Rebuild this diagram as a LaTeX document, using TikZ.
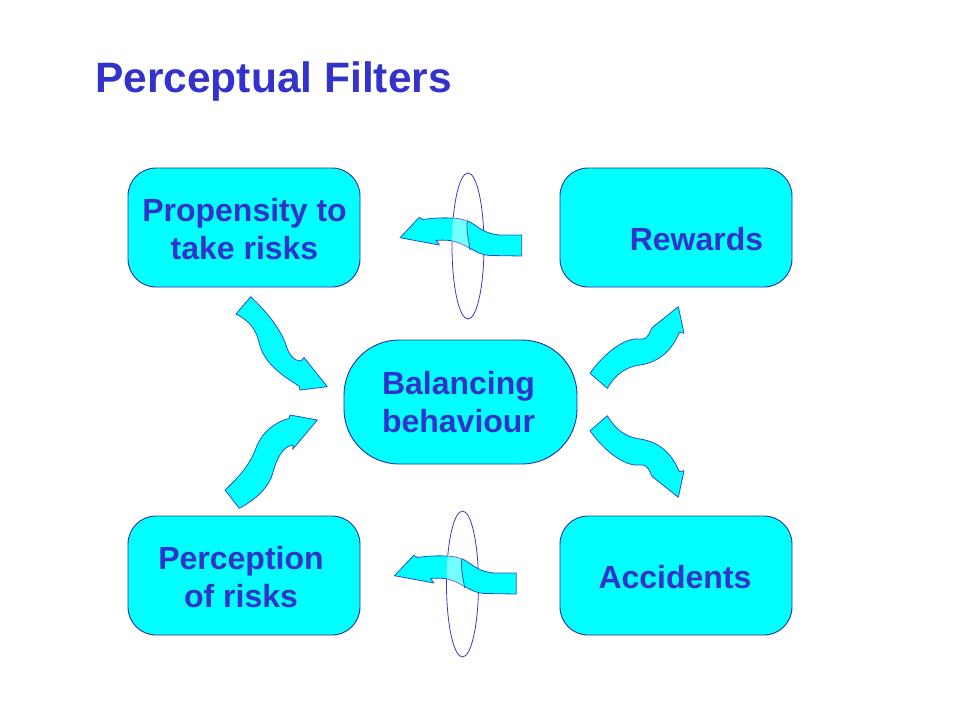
\documentclass[tikz,border=0pt]{standalone}
\usepackage{fontspec}
\setmainfont{Liberation Sans}
\definecolor{txtblue}{RGB}{51,51,204}
\definecolor{cyanfill}{RGB}{0,255,255}
\definecolor{edgeblue}{RGB}{45,45,160}
\definecolor{arrowedge}{RGB}{40,80,200}
\definecolor{ringblue}{RGB}{60,60,180}
\newcommand\filtarrowpath{(521.7,235) -- (521.7,256) -- (490,255.5) .. controls (475,255) and (467,243) .. (450,240.5) .. controls (445,240) and (440,240) .. (436,240.5) -- (439.3,245) -- (400,237.7) -- (419.3,217.3) -- (423,219.5) .. controls (440,217) and (460,217) .. (470,222) .. controls (480,228) and (485,234) .. (500,235) -- cycle}
\tikzset{
  box/.style={draw=edgeblue, line width=0.9pt, fill=cyanfill, rectangle, rounded corners=28pt, inner sep=0pt},
  lbl/.style={text=txtblue, font=\fontsize{32}{38}\selectfont\bfseries, align=center, inner sep=0pt},
  bigarrow/.style={draw=arrowedge, line width=0.8pt, fill=cyanfill, line join=round},
  ring/.style={draw=ringblue, line width=0.8pt},
  filterring/.pic={
    \draw[ring] (468,246) ellipse [x radius=16, y radius=73];
    \path[bigarrow] \filtarrowpath;
    \begin{scope}
      \clip \filtarrowpath;
      \clip (440,200) -- (467,200) -- (467.3,221) .. controls (466,232) and (469,240) .. (470,250) -- (470,280) -- (440,280) -- cycle;
      \fill[white, opacity=0.45] (468,246) ellipse [x radius=16, y radius=73];
    \end{scope}
    \draw[arrowedge, line width=0.8pt] (467.3,221) .. controls (466,232) and (469,240) .. (470,250);
  }
}
\begin{document}
\begin{tikzpicture}[x=1pt,y=-1pt]
\useasboundingbox (0,0) rectangle (960,720);
\fill[white] (0,0) rectangle (960,720);

\node[text=txtblue, font=\fontsize{42.5}{50}\selectfont\bfseries, anchor=base west, inner sep=0pt] (title) at (95,92.5) {Perceptual Filters};

\node[box, minimum width=232pt, minimum height=119pt] (propbox) at (244,227.5) {};
\node[box, minimum width=232pt, minimum height=119pt] (rewbox) at (676,227.5) {};
\node[box, rounded corners=55pt, minimum width=233pt, minimum height=124pt] (balbox) at (460.5,402) {};
\node[box, minimum width=232pt, minimum height=119pt] (perbox) at (244,575.5) {};
\node[box, minimum width=232pt, minimum height=119pt] (accbox) at (676,575.5) {};

\node[lbl] (proptxt) at (244.5,229) {Propensity to\\take risks};
\node[lbl] (rewtxt) at (696.5,239) {Rewards};
\node[lbl] (baltxt) at (458.5,402) {Balancing\\behaviour};
\node[lbl] (pertxt) at (241,577) {Perception\\of risks};
\node[lbl] (acctxt) at (675,577) {Accidents};

% curved arrows
\path[bigarrow] (236,314) -- (250.7,296.7) .. controls (268,313) and (281,330) .. (286,345) .. controls (289,355) and (294,361) .. (301,361) -- (304,357.5) -- (327.3,386.7) -- (300,390) -- (299,386) .. controls (276,372) and (263,360) .. (259,342) .. controls (256,330) and (250,321) .. (236,314) -- cycle;
\path[bigarrow] (239.3,508.3) -- (225,490) .. controls (238,478) and (250,465) .. (256,448) .. controls (262,432) and (275,422) .. (289,418.5) -- (290,415) -- (317.3,420) -- (292.7,449.3) -- (293.3,445) .. controls (283,446) and (277,458) .. (273,472) .. controls (269,488) and (255,500) .. (239.3,508.3) -- cycle;
\path[bigarrow] (590,373.3) .. controls (605,352) and (625,338) .. (638,339) .. controls (645,339.5) and (647,338) .. (648.5,335) -- (651.7,328.3) -- (653.3,326.7) -- (678.3,306.7) -- (684,333.3) -- (679.3,332.3) .. controls (672,350) and (660,362) .. (640,365) .. controls (625,367) and (615,375) .. (607.3,388.3) -- cycle;
\path[bigarrow] (590,430.7) .. controls (605,452) and (625,466) .. (638,465) .. controls (645,464.5) and (647,466) .. (648.5,469) -- (651.7,475.7) -- (653.3,477.3) -- (678.3,497.3) -- (684,470.7) -- (679.3,471.7) .. controls (672,454) and (660,442) .. (640,439) .. controls (625,437) and (615,429) .. (607.3,415.7) -- cycle;

% perceptual filter rings
\pic (topring) at (0,0) {filterring};
\pic (botring) at (-5.5,338) {filterring};
\end{tikzpicture}
\end{document}
